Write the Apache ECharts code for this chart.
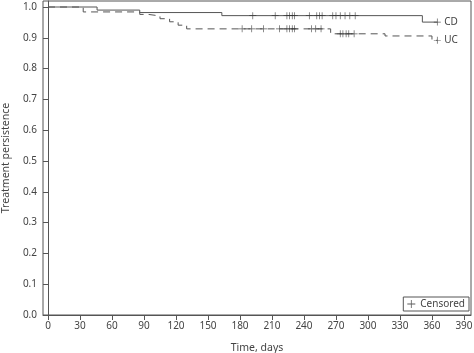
<!DOCTYPE html>
<html>
<head>
<meta charset="utf-8">
<script src="https://cdn.jsdelivr.net/npm/echarts@6/dist/echarts.min.js"></script>
<style>
  html, body { margin: 0; padding: 0; background: #fff; }
  #chart { width: 474px; height: 353px; }
</style>
</head>
<body>
<div id="chart"></div>
<script>
  // step curves: [day, persistence after the drop]
  const cdSteps = [[0, 1.0], [46, 0.990], [86, 0.982], [163, 0.972], [351, 0.951], [365, 0.951]]
  const ucSteps = [[0, 1.0], [33, 0.984], [86, 0.976], [94, 0.971], [105, 0.962], [114, 0.952],
    [122, 0.941], [130, 0.929], [265, 0.913], [316, 0.906], [360, 0.892], [365, 0.892]]

  // censored times (days)
  const cdCensored = [192, 213, 224, 226.5, 229, 231, 245, 252, 254.5, 257, 267, 270, 274, 278.5, 283, 288, 365]
  const ucCensored = [182, 191, 202, 217, 224, 226.5, 229, 231, 247, 251, 256, 274, 276.5, 279.5, 282, 287, 365]

  const xTicks = [0, 30, 60, 90, 120, 150, 180, 210, 240, 270, 300, 330, 360, 390]
  const yTicks = [0, 0.1, 0.2, 0.3, 0.4, 0.5, 0.6, 0.7, 0.8, 0.9, 1.0]

  const plusIcon = 'path://M4.5,0h1v4.5h4.5v1h-4.5v4.5h-1v-4.5h-4.5v-1h4.5z'
  const ink = '#444'
  const font = 'Noto Sans'

  // value of a step curve at time t
  function valueAt(steps, t) {
    let v = steps[0][1]
    for (const s of steps) {
      if (s[0] <= t) v = s[1]
    }
    return v
  }

  const chart = echarts.init(document.getElementById('chart'))

  chart.setOption({
    animation: false,
    textStyle: { fontFamily: font, color: ink },
    grid: {
      left: 43,
      top: 1,
      width: 428,
      height: 314,
      outerBoundsMode: 'none',
      containLabel: false,
      show: true,
      borderColor: '#555',
      borderWidth: 1
    },
    legend: {
      data: [{ name: 'Censored', icon: plusIcon }],
      right: 5,
      bottom: 42,
      itemWidth: 8,
      itemHeight: 8,
      itemGap: 4,
      padding: [2, 4, 2, 4],
      borderColor: '#555',
      borderWidth: 1,
      borderRadius: 0,
      textStyle: { fontFamily: font, fontSize: 10, color: ink }
    },
    xAxis: {
      type: 'value',
      min: -4.7,
      max: 396.6,
      name: 'Time, days',
      nameLocation: 'middle',
      nameGap: 28,
      nameTextStyle: { fontFamily: font, fontSize: 10.5, color: ink },
      axisLine: { show: true, lineStyle: { color: '#555' } },
      axisTick: { show: true, customValues: xTicks, length: 5, lineStyle: { color: '#555' } },
      axisLabel: { customValues: xTicks, fontFamily: font, fontSize: 10, color: ink, margin: 6 },
      splitLine: { show: false }
    },
    yAxis: {
      type: 'value',
      min: 0,
      max: 1.0195,
      name: 'Treatment persistence',
      nameLocation: 'middle',
      nameGap: 30,
      nameTextStyle: { fontFamily: font, fontSize: 10.5, color: ink },
      axisLine: { show: true, lineStyle: { color: '#555' } },
      axisTick: { show: true, customValues: yTicks, length: 5, lineStyle: { color: '#555' } },
      axisLabel: {
        customValues: yTicks,
        fontFamily: font,
        fontSize: 10,
        color: ink,
        margin: 6,
        formatter: (v) => v.toFixed(1)
      },
      splitLine: { show: false }
    },
    series: [
      {
        name: 'CD',
        type: 'line',
        step: 'end',
        data: cdSteps,
        showSymbol: false,
        lineStyle: { color: '#555', width: 1 },
        endLabel: {
          show: true,
          formatter: 'CD',
          distance: 7,
          fontFamily: font,
          fontSize: 10,
          color: ink
        },
        z: 2
      },
      {
        name: 'UC',
        type: 'line',
        step: 'end',
        data: ucSteps,
        showSymbol: false,
        lineStyle: { color: '#555', width: 1, type: [7, 5] },
        endLabel: {
          show: true,
          formatter: 'UC',
          distance: 7,
          fontFamily: font,
          fontSize: 10,
          color: ink
        },
        z: 2
      },
      {
        name: 'Censored',
        type: 'scatter',
        symbol: plusIcon,
        symbolSize: 7,
        itemStyle: { color: '#333' },
        data: cdCensored.map((t) => [t, valueAt(cdSteps, t)])
          .concat(ucCensored.map((t) => [t, valueAt(ucSteps, t)])),
        z: 3
      }
    ]
  })
</script>
</body>
</html>
